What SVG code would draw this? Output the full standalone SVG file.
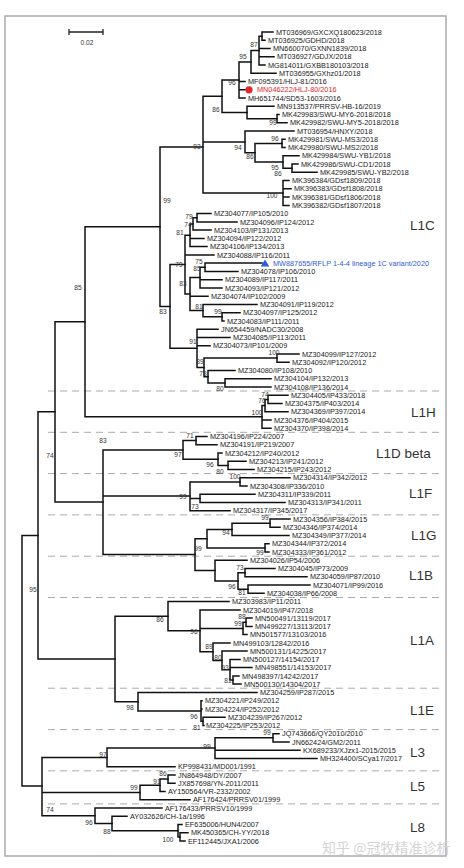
<svg xmlns="http://www.w3.org/2000/svg" width="464" height="868" viewBox="0 0 464 868">
<style>
.lf{font-family:"Liberation Sans",Arial,sans-serif;font-size:7.3px;fill:#222}
.bs{font-family:"Liberation Sans",Arial,sans-serif;font-size:6.6px;fill:#333;text-anchor:middle}
.cl{font-family:"Liberation Sans",Arial,sans-serif;font-size:13.5px;fill:#333}
.br{stroke:#111;stroke-width:1.5;fill:none;stroke-linecap:square}
.dash{stroke:#aaa;stroke-width:1;stroke-dasharray:7 5;fill:none}
</style>
<rect x="0" y="0" width="464" height="868" fill="#fff"/>
<rect x="5" y="16" width="441" height="840" fill="none" stroke="#aaa" stroke-width="1.5"/>
<g id="scale"><path d="M69 32H103M69 29V35M103 29V35" stroke="#222" stroke-width="1.3" fill="none"/><text class="bs" x="87" y="45">0.02</text></g>
<g id="separators">
<path class="dash" d="M48 391H444M48 432.3H444M48 473.6H444M48 514.9H444M48 556.2H444M48 597.5H444M48 688.2H444M48 729.6H444M48 770.8H444M48 803.9H444"/>
</g>
<g id="connectors" class="br">
<path d="M262 32V40.3M262 32H273M262 40.3H265"/>
<path d="M259 36.2V65M259 36.2H262M259 48.5H270M259 56.8H274M259 65H265"/>
<path d="M251 50.6V73.3M251 50.6H259M251 73.3H276"/>
<path d="M239 62V98M239 62H251M239 81.5H245M239 89.8H245M239 98H245"/>
<path d="M277 114.6V122.8M277 114.6H279M277 122.8H287"/>
<path d="M247 106.3V118.7M247 106.3H274M247 118.7H277"/>
<path d="M222 80V112.5M222 80H239M222 112.5H247"/>
<path d="M282 139.3V147.6M282 139.3H285M282 147.6H285"/>
<path d="M292 164.1V172.3M292 164.1H298M292 172.3H317"/>
<path d="M283 155.8V168.2M283 155.8H299M283 168.2H292"/>
<path d="M255 143.5V162M255 143.5H282M255 162H283"/>
<path d="M245 131.1V152.8M245 131.1H294M245 152.8H255"/>
<path d="M283 180.6V205.4M283 180.6H289M283 188.8H291M283 197.1H289M283 205.4H289"/>
<path d="M203 96.2V193M203 96.2H222M203 142H245M203 193H283"/>
<path d="M197 213.6V221.9M197 213.6H211M197 221.9H237"/>
<path d="M193 217.8V230.1M193 217.8H197M193 230.1H211"/>
<path d="M190 224V246.6M190 224H193M190 238.4H204M190 246.6H207"/>
<path d="M205 263.1V271.4M205 263.1H262M205 271.4H238"/>
<path d="M200 267.3V287.9M200 267.3H205M200 279.7H222M200 287.9H222"/>
<path d="M222 312.7V320.9M222 312.7H240M222 320.9H224"/>
<path d="M203 304.4V316.8M203 304.4H257M203 316.8H222"/>
<path d="M190 277.6V310.6M190 277.6H200M190 296.2H208M190 310.6H203"/>
<path d="M185 235.3V294M185 235.3H190M185 254.9H214M185 294H190"/>
<path d="M277 353.9V362.2M277 353.9H299M277 362.2H289"/>
<path d="M225 378.7V387M225 378.7H271M225 387H271"/>
<path d="M208 370.5V382.9M208 370.5H235M208 382.9H225"/>
<path d="M204 358V376.7M204 358H277M204 376.7H208"/>
<path d="M197 329.2V367.4M197 329.2H218M197 337.4H230M197 345.7H210M197 367.4H204"/>
<path d="M170 264.6V348.3M170 264.6H185M170 348.3H197"/>
<path d="M160 147V306.5M160 147H203M160 306.5H170"/>
<path d="M268 395.2V403.5M268 395.2H288M268 403.5H282"/>
<path d="M265 399.4V411.7M265 399.4H268M265 411.7H288"/>
<path d="M262 405.5V428.2M262 405.5H265M262 420H271M262 428.2H271"/>
<path d="M85 226.7V416.8M85 226.7H160M85 416.8H262"/>
<path d="M196 436.5V444.8M196 436.5H207M196 444.8H217"/>
<path d="M228 461.3V469.5M228 461.3H246M228 469.5H254"/>
<path d="M218 453V465.4M218 453H222M218 465.4H228"/>
<path d="M183 440.6V459.2M183 440.6H196M183 459.2H218"/>
<path d="M240 477.8V486M240 477.8H290M240 486H247"/>
<path d="M200 494.3V502.5M200 494.3H255M200 502.5H285"/>
<path d="M190 481.9V510.8M190 481.9H240M190 498.4H200M190 510.8H230"/>
<path d="M270 519V527.3M270 519H290M270 527.3H280"/>
<path d="M232 523.2V535.6M232 523.2H270M232 535.6H289"/>
<path d="M265 543.8V552.1M265 543.8H269M265 552.1H269"/>
<path d="M207 529.4V548M207 529.4H232M207 548H265"/>
<path d="M245 568.6V576.8M245 568.6H275M245 576.8H307"/>
<path d="M248 585.1V593.3M248 585.1H310M248 593.3H264"/>
<path d="M238 572.7V589.2M238 572.7H245M238 589.2H248"/>
<path d="M215 560.3V581M215 560.3H247M215 581H238"/>
<path d="M195 538.7V570.6M195 538.7H207M195 570.6H215"/>
<path d="M103 449.9V554.6M103 449.9H183M103 496H190M103 554.6H195"/>
<path d="M55 321.8V502M55 321.8H85M55 502H103"/>
<path d="M246 618.1V626.4M246 618.1H252M246 626.4H252"/>
<path d="M243 622.3V634.6M243 622.3H246M243 634.6H247"/>
<path d="M233 675.9V684.1M233 675.9H239M233 684.1H241"/>
<path d="M230 659.4V680M230 659.4H240M230 667.6H252M230 680H233"/>
<path d="M222 651.1V669.7M222 651.1H247M222 669.7H230"/>
<path d="M213 642.9V660.4M213 642.9H230M213 660.4H222"/>
<path d="M200 609.9V651.7M200 609.9H240M200 628.5H243M200 651.7H213"/>
<path d="M168 601.6V630.8M168 601.6H229M168 630.8H200"/>
<path d="M203 717.2V725.4M203 717.2H225M203 725.4H204"/>
<path d="M201 700.7V721.3M201 700.7H202M201 708.9H202M201 721.3H203"/>
<path d="M138 692.4V711M138 692.4H257M138 711H201"/>
<path d="M115 616.2V701.7M115 616.2H168M115 701.7H138"/>
<path d="M38 411.8V659M38 411.8H55M38 659H115"/>
<path d="M273 733.7V741.9M273 733.7H279M273 741.9H289"/>
<path d="M215 737.8V758.4M215 737.8H273M215 750.2H300M215 758.4H317"/>
<path d="M107 748V766.7M107 748H215M107 766.7H175"/>
<path d="M168 774.9V783.2M168 774.9H175M168 783.2H175"/>
<path d="M160 779V791.5M160 779H168M160 791.5H165"/>
<path d="M140 785.2V799.7M140 785.2H160M140 799.7H190"/>
<path d="M180 832.7V841M180 832.7H188M180 841H185"/>
<path d="M178 824.5V836.9M178 824.5H182M178 836.9H180"/>
<path d="M112 816.2V830.7M112 816.2H127M112 830.7H178"/>
<path d="M95 808V823.5M95 808H162M95 823.5H112"/>
<path d="M42 757.4V815.7M42 757.4H107M42 792.5H140M42 815.7H95"/>
<path d="M22 535.4V786M22 535.4H38M22 786H42"/>
</g>
<g id="support">
<text class="bs" x="254" y="47.4">87</text><text class="bs" x="243" y="59.4">95</text><text class="bs" x="232" y="85.4">96</text>
<text class="bs" x="216" y="112.4">86</text><text class="bs" x="273" y="125.4">99</text><text class="bs" x="275" y="141.4">96</text>
<text class="bs" x="197" y="149.4">93</text><text class="bs" x="238" y="150.4">94</text><text class="bs" x="250" y="159.4">86</text>
<text class="bs" x="275" y="170.4">95</text><text class="bs" x="278" y="176.4">86</text><text class="bs" x="272" y="198.4">100</text>
<text class="bs" x="167" y="203.4">99</text><text class="bs" x="189" y="219.4">79</text><text class="bs" x="188" y="227.4">74</text>
<text class="bs" x="180" y="235.4">81</text><text class="bs" x="199" y="264.4">75</text><text class="bs" x="179" y="267.4">79</text>
<text class="bs" x="197" y="271.4">85</text><text class="bs" x="183" y="286.4">83</text><text class="bs" x="199" y="309.4">81</text>
<text class="bs" x="163" y="314.4">83</text><text class="bs" x="218" y="314.4">99</text><text class="bs" x="193" y="344.4">91</text>
<text class="bs" x="274" y="355.4">100</text><text class="bs" x="200" y="364.4">89</text><text class="bs" x="203" y="376.4">73</text>
<text class="bs" x="220" y="391.4">80</text><text class="bs" x="265" y="397.4">74</text><text class="bs" x="262" y="403.4">76</text>
<text class="bs" x="257" y="415.4">100</text><text class="bs" x="190" y="438.4">71</text><text class="bs" x="178" y="457.4">97</text>
<text class="bs" x="210" y="467.4">96</text><text class="bs" x="220" y="474.4">80</text><text class="bs" x="235" y="479.4">100</text>
<text class="bs" x="183" y="499.4">99</text><text class="bs" x="195" y="509.4">73</text><text class="bs" x="265" y="520.4">99</text>
<text class="bs" x="226" y="535.4">94</text><text class="bs" x="198" y="551.4">99</text><text class="bs" x="260" y="555.4">99</text>
<text class="bs" x="240" y="570.4">73</text><text class="bs" x="232" y="589.4">96</text><text class="bs" x="242" y="595.4">81</text>
<text class="bs" x="242" y="619.4">88</text><text class="bs" x="160" y="622.4">86</text><text class="bs" x="238" y="626.4">99</text>
<text class="bs" x="194" y="634.4">96</text><text class="bs" x="209" y="649.4">89</text><text class="bs" x="218" y="660.4">80</text>
<text class="bs" x="225" y="670.4">93</text><text class="bs" x="228" y="683.4">81</text><text class="bs" x="130" y="710.4">98</text>
<text class="bs" x="194" y="719.4">96</text><text class="bs" x="197" y="730.4">81</text><text class="bs" x="267" y="735.4">99</text>
<text class="bs" x="207" y="749.4">99</text><text class="bs" x="103" y="757.4">97</text><text class="bs" x="163" y="776.4">86</text>
<text class="bs" x="157" y="784.4">91</text><text class="bs" x="134" y="790.4">99</text><text class="bs" x="50" y="812.4">74</text>
<text class="bs" x="89" y="825.4">96</text><text class="bs" x="107" y="834.4">88</text><text class="bs" x="168" y="842.4">100</text>
<text class="bs" x="78" y="290.4">85</text><text class="bs" x="50" y="458.4">74</text><text class="bs" x="103" y="443.4">83</text>
<text class="bs" x="33" y="592.4">95</text>
</g>
<g id="clades">
<text class="cl" x="410" y="229.8">L1C</text>
<text class="cl" x="411" y="416.8">L1H</text>
<text class="cl" x="376" y="457.8">L1D beta</text>
<text class="cl" x="409" y="497.8">L1F</text>
<text class="cl" x="411" y="539.8">L1G</text>
<text class="cl" x="409" y="579.8">L1B</text>
<text class="cl" x="410" y="644.8">L1A</text>
<text class="cl" x="410" y="714.8">L1E</text>
<text class="cl" x="410" y="756.8">L3</text>
<text class="cl" x="410" y="790.8">L5</text>
<text class="cl" x="410" y="831.8">L8</text>
</g>
<g id="leaves">
<g id="t0"><text class="lf" x="276" y="34.6">MT036969/GXCXQ180623/2018</text></g>
<g id="t1"><text class="lf" x="268" y="42.9">MT036925/GDHD/2018</text></g>
<g id="t2"><text class="lf" x="273" y="51.1">MN660070/GXNN1839/2018</text></g>
<g id="t3"><text class="lf" x="277" y="59.4">MT036927/GDJX/2018</text></g>
<g id="t4"><text class="lf" x="268" y="67.6">MG814011/GXBB180103/2018</text></g>
<g id="t5"><text class="lf" x="279" y="75.9">MT036955/GXhz01/2018</text></g>
<g id="t6"><text class="lf" x="248" y="84.1">MF095391/HLJ-81/2016</text></g>
<g id="t7"><circle cx="249" cy="89.8" r="3.6" fill="#e3262b"/><text class="lf" x="257" y="92.4" style="fill:#e3262b">MN046222/HLJ-80/2016</text></g>
<g id="t8"><text class="lf" x="248" y="100.6">MH651744/SD53-1603/2016</text></g>
<g id="t9"><text class="lf" x="277" y="108.9">MN913537/PRRSV-HB-16/2019</text></g>
<g id="t10"><text class="lf" x="282" y="117.2">MK429983/SWU-MY6-2018/2018</text></g>
<g id="t11"><text class="lf" x="290" y="125.4">MK429982/SWU-MY5-2018/2018</text></g>
<g id="t12"><text class="lf" x="297" y="133.7">MT036954/HNXY/2018</text></g>
<g id="t13"><text class="lf" x="288" y="141.9">MK429981/SWU-MS3/2018</text></g>
<g id="t14"><text class="lf" x="288" y="150.2">MK429980/SWU-MS2/2018</text></g>
<g id="t15"><text class="lf" x="302" y="158.4">MK429984/SWU-YB1/2018</text></g>
<g id="t16"><text class="lf" x="301" y="166.7">MK429986/SWU-CD1/2018</text></g>
<g id="t17"><text class="lf" x="320" y="174.9">MK429985/SWU-YB2/2018</text></g>
<g id="t18"><text class="lf" x="292" y="183.2">MK396384/GDsf1809/2018</text></g>
<g id="t19"><text class="lf" x="294" y="191.4">MK396383/GDsf1808/2018</text></g>
<g id="t20"><text class="lf" x="292" y="199.7">MK396381/GDsf1806/2018</text></g>
<g id="t21"><text class="lf" x="292" y="208">MK396382/GDsf1807/2018</text></g>
<g id="t22"><text class="lf" x="214" y="216.2">MZ304077/IP105/2010</text></g>
<g id="t23"><text class="lf" x="240" y="224.5">MZ304096/IP124/2012</text></g>
<g id="t24"><text class="lf" x="214" y="232.7">MZ304103/IP131/2013</text></g>
<g id="t25"><text class="lf" x="207" y="241">MZ304094/IP122/2012</text></g>
<g id="t26"><text class="lf" x="210" y="249.2">MZ304106/IP134/2013</text></g>
<g id="t27"><text class="lf" x="217" y="257.5">MZ304088/IP116/2011</text></g>
<g id="t28"><path d="M265 259.4L269.3 266.6H260.7Z" fill="#2f5bd6"/><text class="lf" x="273" y="265.7" style="fill:#2f5bd6">MW887655/RFLP 1-4-4 lineage 1C variant/2020</text></g>
<g id="t29"><text class="lf" x="241" y="274">MZ304078/IP106/2010</text></g>
<g id="t30"><text class="lf" x="225" y="282.3">MZ304089/IP117/2011</text></g>
<g id="t31"><text class="lf" x="225" y="290.5">MZ304093/IP121/2012</text></g>
<g id="t32"><text class="lf" x="211" y="298.8">MZ304074/IP102/2009</text></g>
<g id="t33"><text class="lf" x="260" y="307">MZ304091/IP119/2012</text></g>
<g id="t34"><text class="lf" x="243" y="315.3">MZ304097/IP125/2012</text></g>
<g id="t35"><text class="lf" x="227" y="323.5">MZ304083/IP111/2011</text></g>
<g id="t36"><text class="lf" x="221" y="331.8">JN654459/NADC30/2008</text></g>
<g id="t37"><text class="lf" x="233" y="340">MZ304085/IP113/2011</text></g>
<g id="t38"><text class="lf" x="213" y="348.3">MZ304073/IP101/2009</text></g>
<g id="t39"><text class="lf" x="302" y="356.5">MZ304099/IP127/2012</text></g>
<g id="t40"><text class="lf" x="292" y="364.8">MZ304092/IP120/2012</text></g>
<g id="t41"><text class="lf" x="238" y="373.1">MZ304080/IP108/2010</text></g>
<g id="t42"><text class="lf" x="274" y="381.3">MZ304104/IP132/2013</text></g>
<g id="t43"><text class="lf" x="274" y="389.6">MZ304108/IP136/2014</text></g>
<g id="t44"><text class="lf" x="291" y="397.8">MZ304405/IP433/2018</text></g>
<g id="t45"><text class="lf" x="285" y="406.1">MZ304375/IP403/2014</text></g>
<g id="t46"><text class="lf" x="291" y="414.3">MZ304369/IP397/2014</text></g>
<g id="t47"><text class="lf" x="274" y="422.6">MZ304376/IP404/2015</text></g>
<g id="t48"><text class="lf" x="274" y="430.8">MZ304370/IP398/2014</text></g>
<g id="t49"><text class="lf" x="210" y="439.1">MZ304196/IP224/2007</text></g>
<g id="t50"><text class="lf" x="220" y="447.4">MZ304191/IP219/2007</text></g>
<g id="t51"><text class="lf" x="225" y="455.6">MZ304212/IP240/2012</text></g>
<g id="t52"><text class="lf" x="249" y="463.9">MZ304213/IP241/2012</text></g>
<g id="t53"><text class="lf" x="257" y="472.1">MZ304215/IP243/2012</text></g>
<g id="t54"><text class="lf" x="293" y="480.4">MZ304314/IP342/2012</text></g>
<g id="t55"><text class="lf" x="250" y="488.6">MZ304308/IP336/2010</text></g>
<g id="t56"><text class="lf" x="258" y="496.9">MZ304311/IP339/2011</text></g>
<g id="t57"><text class="lf" x="288" y="505.1">MZ304313/IP341/2011</text></g>
<g id="t58"><text class="lf" x="233" y="513.4">MZ304317/IP345/2017</text></g>
<g id="t59"><text class="lf" x="293" y="521.6">MZ304356/IP384/2015</text></g>
<g id="t60"><text class="lf" x="283" y="529.9">MZ304346/IP374/2014</text></g>
<g id="t61"><text class="lf" x="292" y="538.2">MZ304349/IP377/2014</text></g>
<g id="t62"><text class="lf" x="272" y="546.4">MZ304344/IP372/2014</text></g>
<g id="t63"><text class="lf" x="272" y="554.7">MZ304333/IP361/2012</text></g>
<g id="t64"><text class="lf" x="250" y="562.9">MZ304026/IP54/2006</text></g>
<g id="t65"><text class="lf" x="278" y="571.2">MZ304045/IP73/2009</text></g>
<g id="t66"><text class="lf" x="310" y="579.4">MZ304059/IP87/2010</text></g>
<g id="t67"><text class="lf" x="313" y="587.7">MZ304071/IP99/2016</text></g>
<g id="t68"><text class="lf" x="267" y="595.9">MZ304038/IP66/2008</text></g>
<g id="t69"><text class="lf" x="232" y="604.2">MZ303983/IP11/2011</text></g>
<g id="t70"><text class="lf" x="243" y="612.5">MZ304019/IP47/2018</text></g>
<g id="t71"><text class="lf" x="255" y="620.7">MN500491/13119/2017</text></g>
<g id="t72"><text class="lf" x="255" y="629">MN499227/13113/2017</text></g>
<g id="t73"><text class="lf" x="250" y="637.2">MN501577/13103/2016</text></g>
<g id="t74"><text class="lf" x="233" y="645.5">MN499103/12842/2016</text></g>
<g id="t75"><text class="lf" x="250" y="653.7">MN500131/14225/2017</text></g>
<g id="t76"><text class="lf" x="243" y="662">MN500127/14154/2017</text></g>
<g id="t77"><text class="lf" x="255" y="670.2">MN498551/14153/2017</text></g>
<g id="t78"><text class="lf" x="242" y="678.5">MN498397/14242/2017</text></g>
<g id="t79"><text class="lf" x="244" y="686.7">MN500130/14304/2017</text></g>
<g id="t80"><text class="lf" x="260" y="695">MZ304259/IP287/2015</text></g>
<g id="t81"><text class="lf" x="205" y="703.3">MZ304221/IP249/2012</text></g>
<g id="t82"><text class="lf" x="205" y="711.5">MZ304224/IP252/2012</text></g>
<g id="t83"><text class="lf" x="228" y="719.8">MZ304239/IP267/2012</text></g>
<g id="t84"><text class="lf" x="206" y="728">MZ304225/IP253/2012</text></g>
<g id="t85"><text class="lf" x="282" y="736.3">JQ743666/QY2010/2010</text></g>
<g id="t86"><text class="lf" x="292" y="744.5">JN662424/GM2/2011</text></g>
<g id="t87"><text class="lf" x="303" y="752.8">KX689233/XJzx1-2015/2015</text></g>
<g id="t88"><text class="lf" x="320" y="761">MH324400/SCya17/2017</text></g>
<g id="t89"><text class="lf" x="178" y="769.3">KP998431/MD001/1991</text></g>
<g id="t90"><text class="lf" x="178" y="777.5">JN864948/DY/2007</text></g>
<g id="t91"><text class="lf" x="178" y="785.8">JX857698/YN-2011/2011</text></g>
<g id="t92"><text class="lf" x="168" y="794.1">AY150564/VR-2332/2002</text></g>
<g id="t93"><text class="lf" x="193" y="802.3">AF176424/PRRSV01/1999</text></g>
<g id="t94"><text class="lf" x="165" y="810.6">AF176433/PRRSV10/1999</text></g>
<g id="t95"><text class="lf" x="130" y="818.8">AY032626/CH-1a/1996</text></g>
<g id="t96"><text class="lf" x="185" y="827.1">EF635006/HUN4/2007</text></g>
<g id="t97"><text class="lf" x="191" y="835.3">MK450365/CH-YY/2018</text></g>
<g id="t98"><text class="lf" x="188" y="843.6">EF112445/JXA1/2006</text></g>
</g>
<g id="watermark"><text x="322" y="853" style="font-family:'Noto Sans CJK SC',sans-serif;font-size:14px;fill:#d4d4d4">知乎 @冠牧精准诊析</text></g>
</svg>
